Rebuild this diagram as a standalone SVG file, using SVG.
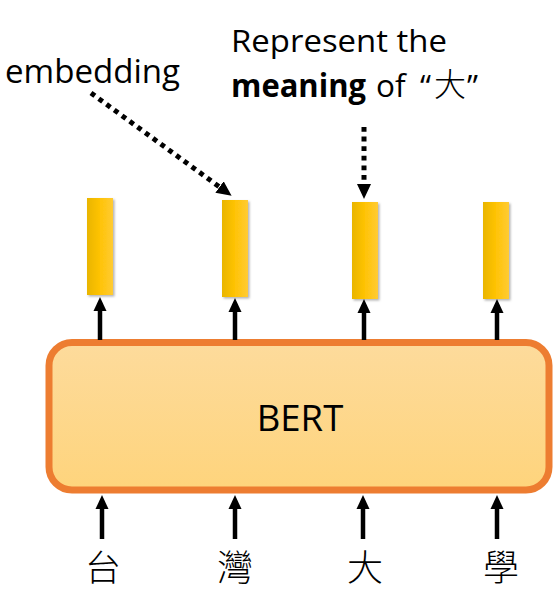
<svg xmlns="http://www.w3.org/2000/svg" width="559" height="602" viewBox="0 0 559 602">
<style>
.lbl{font-family:"Open Sans","Liberation Sans",sans-serif;fill:#000}
.cjk{font-family:"Noto Sans CJK TC","Noto Sans CJK SC",sans-serif;font-weight:300;fill:#000}
.solid{stroke:#000;stroke-width:4.5;fill:none}
.dot{stroke:#000;stroke-width:5;fill:none;stroke-dasharray:4.8 4.8}
.bar{fill:url(#barG);filter:url(#sh)}
</style>
<defs>
<linearGradient id="barG" x1="0" y1="0" x2="1" y2="0">
<stop offset="0" stop-color="#E9B500"/>
<stop offset="0.5" stop-color="#FFC305"/>
<stop offset="1" stop-color="#FFCB35"/>
</linearGradient>
<linearGradient id="boxG" x1="0" y1="0" x2="0" y2="1">
<stop offset="0" stop-color="#FDDB9C"/>
<stop offset="1" stop-color="#FED47C"/>
</linearGradient>
<filter id="sh" x="-30%" y="-10%" width="160%" height="120%">
<feDropShadow dx="1.5" dy="1.5" stdDeviation="1.2" flood-color="#000" flood-opacity="0.3"/>
</filter>
<marker id="ah" markerUnits="userSpaceOnUse" markerWidth="16" markerHeight="15" refX="0" refY="7" orient="auto" viewBox="0 0 16 14">
<path d="M0,0 L15,7 L0,14 z" fill="#000"/>
</marker>
<marker id="ahs" markerUnits="userSpaceOnUse" markerWidth="14" markerHeight="14" refX="0" refY="6.5" orient="auto" viewBox="0 0 14 13">
<path d="M0,0 L14,6.5 L0,13 z" fill="#000"/>
</marker>
</defs>

<g id="bert">
<rect x="49" y="342.5" width="500" height="147.5" rx="23" ry="23" fill="url(#boxG)" stroke="#ED7D31" stroke-width="7"/>
<text class="lbl" x="300" y="431" font-size="36.5" text-anchor="middle">BERT</text>
</g>

<g id="emb1"><rect class="bar" x="87" y="198" width="26" height="97"/></g>
<g id="emb2"><rect class="bar" x="222" y="200" width="26" height="97"/></g>
<g id="emb3"><rect class="bar" x="352" y="202" width="26" height="97"/></g>
<g id="emb4"><rect class="bar" x="483" y="202" width="26" height="97"/></g>

<g id="label-embedding">
<text class="lbl" x="5" y="82.5" font-size="32" textLength="175" lengthAdjust="spacingAndGlyphs">embedding</text>
</g>
<g id="label-meaning">
<text class="lbl" x="231" y="51.5" font-size="31.5" textLength="216" lengthAdjust="spacingAndGlyphs">Represent the</text>
<text class="lbl" x="231" y="97" font-size="31.5" font-weight="bold" textLength="135" lengthAdjust="spacingAndGlyphs">meaning</text>
<text class="lbl" x="376" y="97" font-size="31.5">of</text>
<text class="lbl" x="420" y="97" font-size="31.5">“</text>
<text class="cjk" x="434" y="96" font-size="32">大</text>
<text class="lbl" x="467" y="97" font-size="31.5">”</text>
</g>

<g id="tokens">
<text class="cjk" x="103" y="581" font-size="36" text-anchor="middle">台</text>
<text class="cjk" x="235" y="581" font-size="36" text-anchor="middle">灣</text>
<text class="cjk" x="365" y="581" font-size="36" text-anchor="middle">大</text>
<text class="cjk" x="501" y="581" font-size="36" text-anchor="middle">學</text>
</g>

<g id="connectors">
<line class="solid" x1="100" y1="340" x2="100" y2="311" marker-end="url(#ahs)"/>
<line class="solid" x1="235" y1="340" x2="235" y2="312" marker-end="url(#ahs)"/>
<line class="solid" x1="364" y1="340" x2="364" y2="313" marker-end="url(#ahs)"/>
<line class="solid" x1="497" y1="340" x2="497" y2="313" marker-end="url(#ahs)"/>
<line class="solid" x1="102" y1="539" x2="102" y2="509" marker-end="url(#ahs)"/>
<line class="solid" x1="235" y1="539" x2="235" y2="509" marker-end="url(#ahs)"/>
<line class="solid" x1="363" y1="539" x2="363" y2="509" marker-end="url(#ahs)"/>
<line class="solid" x1="497" y1="539" x2="497" y2="509" marker-end="url(#ahs)"/>
<line class="dot" x1="364" y1="127" x2="364" y2="184" marker-end="url(#ah)"/>
<line class="dot" x1="91" y1="93" x2="219.5" y2="187" marker-end="url(#ah)"/>
</g>
</svg>
